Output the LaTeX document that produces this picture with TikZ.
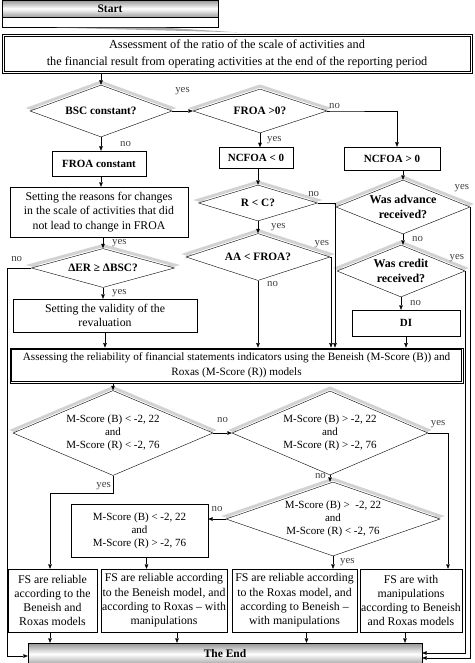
\documentclass[tikz,border=0pt]{standalone}
\usepackage{fontspec}
\setmainfont{Liberation Serif}
\usetikzlibrary{shapes.geometric,arrows.meta,shadows,positioning}

\tikzset{
  box/.style={draw, fill=white, align=center, inner sep=1pt, font=\fontsize{11.8}{14.3}\selectfont},
  boldbox/.style={box, font=\fontsize{11}{13}\selectfont\bfseries},
  terminal/.style={draw, inner sep=0pt, top color=gray!85, bottom color=gray!75, middle color=white, font=\fontsize{11.5}{13}\selectfont\bfseries},
  decision/.style={diamond, draw, fill=white, align=center, inner sep=0pt,
    font=\fontsize{11.3}{13}\selectfont\bfseries,
    general shadow={shadow yshift=3pt, draw=gray!35, line width=3pt}},
  score/.style={decision, font=\fontsize{11}{13}\selectfont},
  lbl/.style={inner sep=1pt, text=black!75, font=\fontsize{10.8}{12}\selectfont},
  >={Triangle[length=4.5pt,width=3.5pt]}
}

\begin{document}
\begin{tikzpicture}[x=1pt,y=-1pt]
\useasboundingbox (0,0) rectangle (474,663);
% start and first assessment
\node[terminal, minimum width=216pt, minimum height=17pt] (start) at (110,8.5) {Start};
\draw (start.south west) rectangle ([yshift=-10pt]start.south east);
\node[box, minimum width=470pt, minimum height=39pt, font=\fontsize{12.3}{17}\selectfont] (assess) at (237,53.5) {Assessment of the ratio of the scale of activities and\\the financial result from operating activities at the end of the reporting period};
\draw ([shift={(2pt,2pt)}]assess.south west) rectangle ([shift={(-2pt,-2pt)}]assess.north east);
\fill[gray!65] ([shift={(-55pt,-10.5pt)}]start.south) -- ([shift={(55pt,-10.5pt)}]start.south) -- ([yshift=1.5pt]assess.north) -- cycle;

% left column
\node[decision, minimum width=142pt, minimum height=52pt, aspect=2.73] (bsc) at (101,111) {BSC constant?};
\node[boldbox, minimum width=94pt, minimum height=25pt] (froac) at (99,163.5) {FROA constant};
\node[box, minimum width=178pt, minimum height=50pt] (reasons) at (99,212) {Setting the reasons for changes\\in the scale of activities that did\\not lead to change in FROA};
\node[decision, minimum width=143pt, minimum height=39pt, aspect=3.6] (der) at (103,268) {ΔER ≥ ΔBSC?};
\node[box, minimum width=184pt, minimum height=33pt] (valid) at (105,315.5) {Setting the validity of the\\revaluation};

% middle column
\node[decision, minimum width=134pt, minimum height=44pt, aspect=3] (froa) at (260,111) {FROA >0?};
\node[boldbox, minimum width=74pt, minimum height=21pt] (ncfoaneg) at (256,158) {NCFOA < 0};
\node[decision, minimum width=119pt, minimum height=36pt, aspect=3.3] (rc) at (258,203) {R < C?};
\node[decision, minimum width=144pt, minimum height=47pt, aspect=3.06] (aa) at (258,257) {AA < FROA?};

% right column
\node[boldbox, minimum width=96pt, minimum height=23pt] (ncfoapos) at (392,158.5) {NCFOA > 0};
\node[decision, minimum width=134pt, minimum height=54pt, aspect=2.45, font=\fontsize{12}{15}\selectfont\bfseries] (adv) at (403,207) {Was advance\\received?};
\node[decision, minimum width=128pt, minimum height=52pt, aspect=2.45, font=\fontsize{12}{15}\selectfont\bfseries] (cred) at (401,271) {Was credit\\received?};
\node[boldbox, minimum width=108pt, minimum height=26pt] (di) at (406,323) {DI};

% reliability check
\node[box, line width=0.9pt, minimum width=453pt, minimum height=35pt, font=\fontsize{11.2}{15}\selectfont] (rel) at (236.5,365.5) {Assessing the reliability of financial statements indicators using the Beneish (M-Score (B)) and\\Roxas (M-Score (R)) models};
\draw ([shift={(2pt,2pt)}]rel.south west) rectangle ([shift={(-2pt,-2pt)}]rel.north east);
\node[score, minimum width=200pt, minimum height=85pt, aspect=2.35] (m1) at (113,433) {M-Score (B) < -2, 22\\and\\M-Score (R) < -2, 76};
\node[score, minimum width=196pt, minimum height=84pt, aspect=2.33] (m2) at (330,433) {M-Score (B) > -2, 22\\and\\M-Score (R) > -2, 76};
\node[score, minimum width=214pt, minimum height=74pt, aspect=2.9] (m3) at (333,519) {M-Score (B) >\ \ -2, 22\\and\\M-Score (R) < -2, 76};
\node[box, minimum width=137pt, minimum height=53pt, font=\fontsize{11}{13}\selectfont] (m4) at (139.5,530.5) {M-Score (B) < -2, 22\\and\\M-Score (R) > -2, 76};

% results
\node[box, minimum width=89pt, minimum height=63pt] (fs1) at (52.5,600.5) {FS are reliable\\according to the\\Beneish and\\Roxas models};
\node[box, minimum width=124pt, minimum height=63pt] (fs2) at (164,600.5) {FS are reliable according\\to the Beneish model, and\\according to Roxas -- with\\manipulations};
\node[box, minimum width=125pt, minimum height=63pt] (fs3) at (294.5,600.5) {FS are reliable according\\to the Roxas model, and\\according to Beneish --\\with manipulations};
\node[box, minimum width=102pt, minimum height=63pt] (fs4) at (411,600.5) {FS are with\\manipulations\\according to Beneish\\and Roxas models};
\node[terminal, minimum width=394pt, minimum height=22pt] (theend) at (225,654) {The End};

% rails
\coordinate (leftrail) at (7,0);
\coordinate (aarail) at (331,0);
\coordinate (rcrail) at (335,0);
\coordinate (fsrail) at (448,0);
\coordinate (fs1x) at (50,0);

% connectors
\draw[->] (bsc.north |- assess.south) -- (bsc.north);
\draw[->] (bsc.east) -- node[lbl, above=15pt] {yes} (froa.west);
\draw[->] (bsc.south) -- node[lbl, right=18pt] {no} (bsc.south |- froac.north);
\draw[->] (bsc.south |- froac.south) -- (bsc.south |- reasons.north);
\draw[->] (der.north |- reasons.south) -- node[lbl, right=8pt] {yes} (der.north);
\draw[->] (der.west) -- node[lbl, above=5pt, pos=0.6] {no} (der.west -| leftrail) |- ([yshift=-2pt]theend.west);
\draw[->] (der.south) -- node[lbl, right=8pt] {yes} (der.south |- valid.north);
\draw[->] (valid.south) -- (valid.south |- rel.north);

\draw[->] (froa.east) -- node[lbl, above right=1pt, pos=0] {no} ++(5,0) -| ([xshift=5pt]ncfoapos.north);
\draw[->] (froa.south) -- node[lbl, right=6pt] {yes} (froa.south |- ncfoaneg.north);
\draw[->] (rc.north |- ncfoaneg.south) -- (rc.north);
\draw[->] (rc.south) -- node[lbl, right=12pt] {yes} (aa.north);
\draw[->] (rc.east) -- node[lbl, above=5pt, pos=0, xshift=-4pt] {no} (rc.east -| rcrail) -- (rcrail |- rel.north);
\draw[->] (aa.east) -- node[lbl, above left=8pt and 0pt, pos=0] {yes} (aa.east -| aarail) -- (aarail |- rel.north);
\draw[->] (aa.south) -- node[lbl, right=8pt, pos=0.05] {no} (aa.south |- rel.north);

\draw[->] (adv.north |- ncfoapos.south) -- (adv.north);
\draw[->] (adv.south) -- node[lbl, right=8pt] {no} (adv.south |- cred.north);
\draw[->] (cred.south) -- node[lbl, right=8pt] {no} (cred.south |- di.north);
\draw[->] (di.south) -- (di.south |- rel.north);
\draw[->] (adv.east) -- node[lbl, above left=14pt and 0pt, pos=0] {yes} ++(0,1) |- ([yshift=-4pt]theend.east);
\draw[->] (cred.east) -- node[lbl, above left=8pt and 0pt, pos=0] {yes} ++(0,1) |- ([yshift=1pt]theend.east);

\draw[->] (m1.north |- rel.south) -- (m1.north);
\draw[->] (m1.east) -- node[lbl, above=9pt] {no} (m2.west);
\draw[->] (m1.south) -- node[lbl, left=1pt, pos=0.6] {yes} ++(0,17) -| (fs1.north -| fs1x);
\draw[->] (m2.south) -- node[lbl, left=3pt, pos=0.1] {no} (m2.south |- m3.north);
\draw[->] (m2.east) -- node[lbl, above=4pt] {yes} (m2.east -| fsrail) -- (fsrail |- fs4.north);
\draw[->] (m3.west) -- node[lbl, above=6pt] {no} (m3.west -| m4.east);
\draw[->] ([xshift=7pt]m4.south) -- ([xshift=7pt]m4.south |- fs2.north);
\draw[->] (m3.south) -- node[lbl, right=6pt] {yes} (m3.south |- fs3.north);

\draw[->] (fs1.south -| fs1x) -- (fs1x |- theend.north);
\draw[->] ([xshift=13pt]fs2.south) -- ([xshift=13pt]fs2.south |- theend.north);
\draw[->] ([xshift=12pt]fs3.south) -- ([xshift=12pt]fs3.south |- theend.north);
\draw[->] ([xshift=-6pt]fs4.south) -- ([xshift=-6pt]fs4.south |- theend.north);
\end{tikzpicture}
\end{document}
